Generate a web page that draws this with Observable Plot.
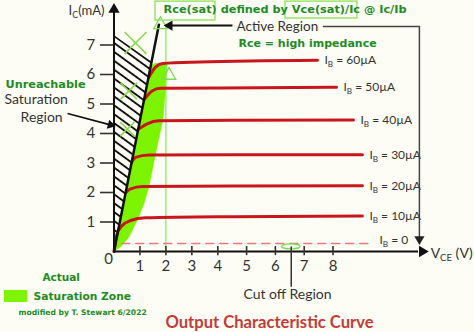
<!DOCTYPE html>
<html><head><meta charset="utf-8">
<script src="https://cdn.jsdelivr.net/npm/d3@7"></script>
<script src="https://cdn.jsdelivr.net/npm/@observablehq/plot@0.6"></script>
<style>
html,body{margin:0;padding:0;background:#fdfdf6;}
#chart{width:474px;height:332px;overflow:hidden;}
</style></head><body><div id="chart"></div>
<script>
// ---- data (Vce in volts, Ic in mA) ----
const xTicks = [1, 2, 3, 4, 5, 6, 7, 8];
const yTicks = [1, 2, 3, 4, 5, 6, 7];
const ibValues = [60, 50, 40, 30, 20, 10];
const ib60V = [1.33, 1.60, 1.87, 3.33, 7.46];
const ib60I = [5.89, 6.25, 6.37, 6.42, 6.48];
const ib50V = [1.17, 1.47, 1.79, 4.10, 8.12];
const ib50I = [5.16, 5.44, 5.53, 5.54, 5.57];
const ib40V = [0.94, 1.28, 1.73, 4.50, 8.71];
const ib40I = [4.15, 4.33, 4.43, 4.45, 4.46];
const ib30V = [0.68, 0.83, 1.34, 4.50, 9.02];
const ib30I = [3.02, 3.19, 3.27, 3.28, 3.28];
const ib20V = [0.46, 0.64, 1.09, 4.50, 9.02];
const ib20I = [2.00, 2.12, 2.20, 2.22, 2.23];
const ib10V = [0, 0.12, 0.32, 0.64, 1.21, 4.50, 9.02];
const ib10I = [0, 0.60, 0.88, 1.05, 1.14, 1.18, 1.20];
const ib0V = [0.30, 9.37];
const ib0I = [0.27, 0.27];
const boundaryV = [0, 0.90, 1.73];
const boundaryI = [0, 4.00, 7.69];
const satZoneV = [0, 1.42, 1.60, 2.05, 1.98, 1.88, 1.73, 1.60, 1.47, 1.34, 1.15, 0.89, 0.57, 0.25];
const satZoneI = [0, 6.30, 6.38, 6.34, 5.44, 4.43, 3.86, 3.30, 2.74, 2.17, 1.61, 1.05, 0.48, 0.15];
const unreachV = [0, 0, 1.44];
const unreachI = [0, 7.30, 6.40];
const crossV = [0.83, 0.57, 0.51];
const crossI = [7.07, 5.44, 4.15];
const rceLineV = 2;
const cutoffV = 6.55;

// ---- tables ----
const ibSeries = [[60, ib60V, ib60I], [50, ib50V, ib50I], [40, ib40V, ib40I],
                  [30, ib30V, ib30I], [20, ib20V, ib20I], [10, ib10V, ib10I]];
const curveRows = ibSeries.flatMap(([ib, V, I]) => V.map((v, k) => ({ib, v, i: I[k]})));
const curveEnds = ibSeries.map(([ib, V, I]) => ({ib, v: V[V.length - 1], i: I[I.length - 1]}));
const zip = (V, I) => V.map((v, k) => ({v, i: I[k]}));
const ib0Rows = zip(ib0V, ib0I);
const boundaryRows = zip(boundaryV, boundaryI);
const satRows = zip(satZoneV, satZoneI);
const unreachRows = zip(unreachV, unreachI);
const crossRows = zip(crossV, crossI);

const GREEN = "#1f8b24", LIME = "#7cf400", RED = "#c8161d", INK = "#333";
const G = {fill: GREEN, fontFamily: "DejaVu Sans", fontWeight: "bold", fontSize: 11};
const T = {fill: INK, fontFamily: "Lato", fontSize: 14};
const note = (t, x, y, o = {}) => Plot.text([t], {x: () => x, y: () => y, text: d => d,
  textAnchor: "start", lineAnchor: "middle", ...o});
const seg = (x1, y1, x2, y2, o = {}) => Plot.link([0], {x1: () => x1, y1: () => y1, x2: () => x2, y2: () => y2, ...o});
const head = (x, y, rotate, o = {}) => Plot.dot([0], {x: () => x, y: () => y, symbol: "triangle", r: 3.8, fill: "#111", rotate, ...o});

const svg = Plot.plot({
  width: 474, height: 332, margin: 0,
  style: {background: "#fdfdf6", overflow: "visible"},
  x: {type: "linear", domain: [0, 4, 8], range: [113.5, 217.3, 332.5], axis: null},
  y: {type: "linear", domain: [0, 7], range: [251, 44.5], axis: null},
  r: {type: "identity"},
  marks: [
    // actual saturation zone
    Plot.line(satRows, {x: "v", y: "i", fill: LIME, stroke: LIME, strokeWidth: 0.5, curve: "linear"}),
    // unreachable hatched region
    Plot.line(unreachRows, {x: "v", y: "i", fill: "url(#hatch)", stroke: "#111", strokeWidth: 1.7}),
    // Rce(sat) reference line at 2 V
    Plot.ruleX([rceLineV], {y1: 0, y2: 7.62, stroke: "#8ee66b", strokeWidth: 1.3}),
    // IB curves
    Plot.line(curveRows, {x: "v", y: "i", z: "ib", stroke: RED, strokeWidth: 3, curve: "monotone-x"}),
    Plot.line(ib0Rows, {x: "v", y: "i", stroke: "#e47a7c", strokeWidth: 1.6, strokeDasharray: "8,6"}),
    // saturation boundary
    Plot.line(boundaryRows, {x: "v", y: "i", stroke: "#111", strokeWidth: 2.5}),
    // axes
    Plot.ruleX([0], {y1: 0, y2: 8.1, stroke: "#111", strokeWidth: 2}),
    Plot.ruleY([0], {x1: 0, x2: 10.97, stroke: "#111", strokeWidth: 2}),
    head(0, 8.2, 0, {r: 4.2}),
    head(11.1, 0, 90, {r: 4.2}),
    Plot.ruleY(yTicks, {x1: -0.52, x2: 0, stroke: INK, strokeWidth: 1.6}),
    Plot.ruleX(xTicks, {y1: -0.14, y2: 0.17, stroke: INK, strokeWidth: 1.6}),
    Plot.text(yTicks, {x: -0.72, y: d => d, text: d => String(d), textAnchor: "end", fontSize: 15, fill: INK, fontFamily: "Lato"}),
    Plot.text(xTicks, {x: d => d, y: -0.5, text: d => String(d), fontSize: 15, fill: INK, fontFamily: "Lato"}),
    note("0", -0.21, -0.27, {...T, fontSize: 15, textAnchor: "middle"}),
    note("I{C}(mA)", -1.75, 8.17, {...T, fontSize: 13}),
    note("V{CE} (V)", 11.39, -0.07, {...T, fontSize: 14}),
    // IB labels
    Plot.text(curveEnds, {x: "v", y: "i", text: d => `I{B} = ${d.ib}µA`, dx: 7, textAnchor: "start", fill: INK, fontFamily: "Lato", fontSize: 12}),
    Plot.text([ib0Rows[1]], {x: "v", y: "i", text: () => "I{B} = 0", dx: 7, dy: -3, textAnchor: "start", fill: INK, fontFamily: "Lato", fontSize: 12}),
    // green crosses & markers
    Plot.dot(crossRows, {x: "v", y: "i", symbol: "times", r: (d, k) => [10, 7.5, 6.5][k], stroke: "#8fd64f", strokeWidth: 1.6}),
    Plot.dot([{v: 1.79, i: 7.69}, {v: 2.12, i: 5.97}], {x: "v", y: "i", symbol: "triangle", r: 5, stroke: "#7ed957", fill: "none", strokeWidth: 1.3}),
    // Active region annotation
    note("Active Region", 4.65, 7.63, {...T, fontSize: 13.5}),
    seg(4.51, 7.66, 2.22, 7.66, {stroke: "#111", strokeWidth: 2}),
    head(2.14, 7.66, -90),
    Plot.line([{v: 7.67, i: 7.63}, {v: 11.0, i: 7.63}, {v: 11.0, i: 0.5}], {x: "v", y: "i", stroke: "#444", strokeWidth: 1.5}),
    head(11.0, 0.42, 180, {fill: "#222"}),
    note("Rce = high impedance", 4.72, 7.05, {...G, fontSize: 11}),
    // title with boxes
    Plot.rect([0], {x1: () => 1.60, x2: () => 3.91, y1: () => 7.83, y2: () => 8.47, fill: "none", stroke: "#9be36e", strokeWidth: 1.5}),
    Plot.rect([0], {x1: () => 6.35, x2: () => 8.85, y1: () => 7.90, y2: () => 8.47, fill: "none", stroke: "#9be36e", strokeWidth: 1.5}),
    note("Rce(sat) defined by Vce(sat)/Ic @ Ic/Ib", 1.91, 8.20, {...G, fontSize: 11.3}),
    // unreachable region annotation
    note("Unreachable", -4.18, 5.68, {...G, fontSize: 11.3}),
    note("Saturation", -4.22, 5.15, T),
    note("Region", -3.60, 4.54, T),
    seg(-1.79, 4.68, -0.21, 4.31, {stroke: "#111", strokeWidth: 1.6}),
    head(-0.13, 4.29, 105, {r: 3.5}),
    // cut-off region
    Plot.rect([0], {x1: () => 6.23, x2: () => 6.87, y1: () => 0.07, y2: () => 0.24, rx: 9, ry: 2.5, fill: "#eefae6", stroke: "#7ed957", strokeWidth: 1.2}),
    Plot.ruleX([cutoffV], {y1: 0.15, y2: -1.21, stroke: INK, strokeWidth: 1.5}),
    note("Cut off Region", 4.89, -1.47, T),
    // legend & caption
    note("Actual", -2.76, -0.90, {...G, fontSize: 10.5}),
    Plot.rect([0], {x1: () => -4.22, x2: () => -3.33, y1: () => -1.73, y2: () => -1.32, fill: LIME}),
    note("Saturation Zone", -3.10, -1.53, {...G, fontSize: 10.7}),
    note("modified by T. Stewart 6/2022", -3.68, -2.07, {...G, fontSize: 7.6}),
    note("Output Characteristic Curve", 1.98, -2.40, {fill: "#c23b36", fontFamily: "Lato", fontWeight: "bold", fontSize: 16.6})
  ]
});

// hatch pattern for the unreachable region
const defs = d3.select(svg).insert("defs", ":first-child");
const pat = defs.append("pattern").attr("id", "hatch").attr("patternUnits", "userSpaceOnUse")
  .attr("width", 10).attr("height", 7.2).attr("patternTransform", "rotate(36)");
pat.append("line").attr("x1", -1).attr("x2", 11).attr("y1", 3.6).attr("y2", 3.6)
  .attr("stroke", "#111").attr("stroke-width", 1.9);

// subscripts written as X{sub}
d3.select(svg).selectAll("text").each(function () {
  const m = this.textContent.match(/^(.*?)\{(.+?)\}(.*)$/);
  if (!m || this.children.length) return;
  const s = d3.select(this).text(null);
  s.append("tspan").text(m[1]);
  s.append("tspan").attr("font-size", "0.68em").attr("dy", 3).text(m[2]);
  s.append("tspan").attr("dy", -3).text(m[3]);
});

document.getElementById("chart").appendChild(svg);
</script></body></html>
